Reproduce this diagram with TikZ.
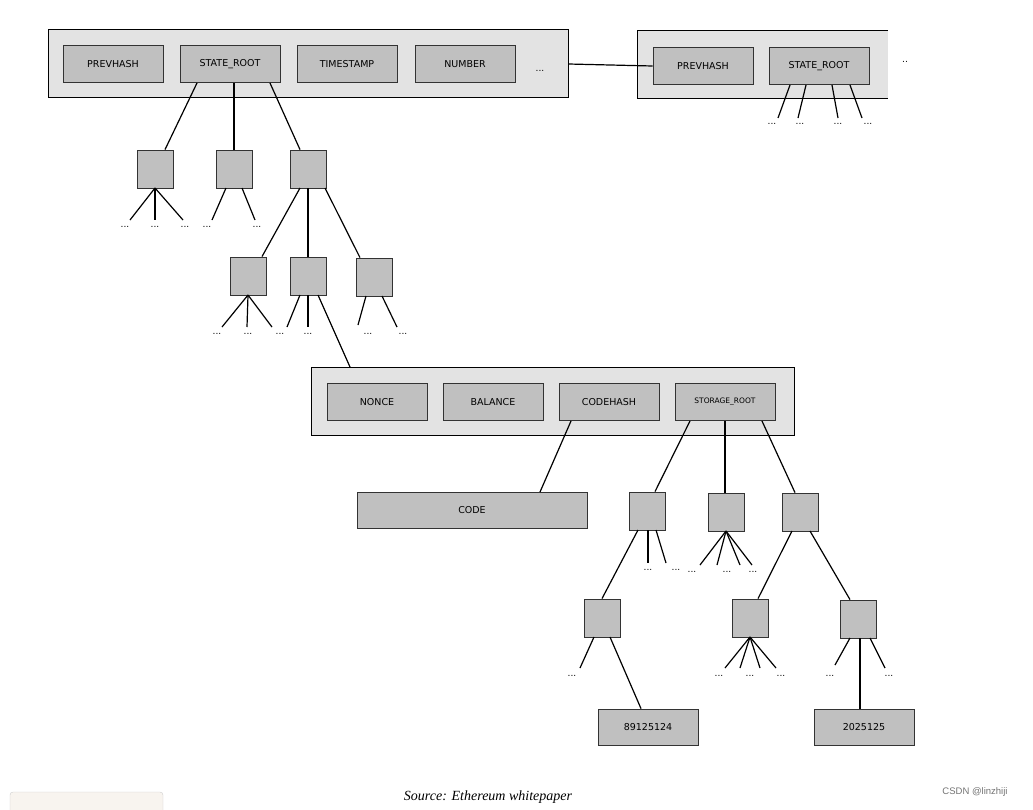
\documentclass[tikz,border=0pt]{standalone}
\usepackage{fontspec}
\setmainfont{DejaVu Sans}
\newfontfamily\capfont{Liberation Serif}
\newfontfamily\wmfont{Liberation Sans}
\definecolor{outerg}{HTML}{E3E3E3}
\definecolor{innerg}{HTML}{C0C0C0}
\begin{document}
\begin{tikzpicture}[x=1pt,y=-1pt,
  every node/.style={inner sep=0pt,font=\fontsize{9.5}{11}\selectfont},
  outer/.style={draw=black,line width=1pt,fill=outerg},
  field/.style={draw=black!80,line width=0.8pt,fill=innerg,minimum width=100pt,minimum height=37pt},
  sq/.style={draw=black!80,line width=0.8pt,fill=innerg,minimum width=36pt,minimum height=38pt},
  e/.style={line width=1.2pt},
  dots/.style={font=\fontsize{9}{10}\selectfont}]
\useasboundingbox (0,0) rectangle (1033,809);
% block 1
\node[outer,minimum width=520pt,minimum height=68pt] (b1) at (308,63) {};
\node[field] (ph1) at (113,64) {PREVHASH};
\node[field] (sr1) at (230,64) {STATE\_ROOT};
\node[field] (ts1) at (347,64) {TIMESTAMP};
\node[field] (nu1) at (465,64) {NUMBER};
\node[dots] (d0) at (540,71) {...};
% block 2
\fill[outerg] (637,30) rectangle (888,98);
\draw[line width=1pt] (888,30) -- (637,30) -- (637,98) -- (888,98);
\node[field] (ph2) at (703,66) {PREVHASH};
\node[field] (sr2) at (819,66) {STATE\_ROOT};
\node[dots] at (905,62) {..};
\draw[e] (b1.east |- 0,64) -- (ph2.west);
\foreach \a/\b in {790/778,806/798,832/838,850/862}
  \draw[e] (\a,85) -- (\b,118);
\foreach \x in {772,800,838,868} \node[dots] at (\x,124) {...};
% level 1
\node[sq] (A) at (155,169) {};
\node[sq] (B) at (234,169) {};
\node[sq] (C) at (308,169) {};
\draw[e] (197,83) -- (A.north -| 165,0);
\draw[e] (234,83) -- (B.north);
\draw[e] (270,83) -- (C.north -| 300,0);
\foreach \x in {130,155,183} \draw[e] (A.south -| \x,0) ++(0,0) coordinate (t) (155,188) -- (\x,220);
\foreach \x in {125,155,185} \node[dots] at (\x,227) {...};
\draw[e] (226,188) -- (212,220); \draw[e] (242,188) -- (255,220);
\foreach \x in {207,257} \node[dots] at (\x,227) {...};
% level 2
\node[sq] (D) at (248,276) {};
\node[sq] (E) at (308,276) {};
\node[sq] (F) at (374,277) {};
\draw[e] (300,188) -- (D.north -| 262,0);
\draw[e] (308,188) -- (E.north);
\draw[e] (325,188) -- (F.north -| 360,0);
\foreach \x in {222,247,272} \draw[e] (248,295) -- (\x,327);
\draw[e] (300,295) -- (287,327); \draw[e] (308,295) -- (308,327);
\draw[e] (366,296) -- (358,325); \draw[e] (382,296) -- (397,327);
\foreach \x in {217,248,280,308,368,403} \node[dots] at (\x,334) {...};
% account
\node[outer,minimum width=483pt,minimum height=68pt] (acc) at (552.5,401) {};
\draw[e] (318,295) -- (350,367);
\node[field] (no) at (377,402) {NONCE};
\node[field] (ba) at (493,402) {BALANCE};
\node[field] (ch) at (609,402) {CODEHASH};
\node[field,font=\fontsize{7.5}{9}\selectfont] (st) at (725,402) {STORAGE\_ROOT};
\node[draw=black!80,line width=0.8pt,fill=innerg,minimum width=230pt,minimum height=36pt] (code) at (472,510) {CODE};
\draw[e] (571,421) -- (540,492);
% storage trie
\node[sq] (G) at (647,511) {};
\node[sq] (H) at (726,512) {};
\node[sq] (I) at (800,512) {};
\draw[e] (690,421) -- (G.north -| 655,0);
\draw[e] (725,421) -- (H.north -| 725,0);
\draw[e] (762,421) -- (I.north -| 795,0);
\node[sq] (J) at (602,618) {};
\node[sq] (K) at (750,618) {};
\node[sq] (L) at (858,619) {};
\draw[e] (638,530) -- (J.north);
\draw[e] (648,530) -- (648,563); \draw[e] (656,530) -- (666,563);
\foreach \x in {648,676} \node[dots] at (\x,570) {...};
\foreach \x in {700,717,740,752} \draw[e] (726,531) -- (\x,565);
\foreach \x in {692,727,753} \node[dots] at (\x,572) {...};
\draw[e] (792,531) -- (K.north -| 758,0);
\draw[e] (810,531) -- (L.north -| 850,0);
\node[draw=black!80,line width=0.8pt,fill=innerg,minimum width=100pt,minimum height=36pt] (n1) at (648,727) {89125124};
\node[draw=black!80,line width=0.8pt,fill=innerg,minimum width=100pt,minimum height=36pt] (n2) at (864,727) {2025125};
\draw[e] (594,637) -- (580,668); \draw[e] (610,637) -- (n1.north -| 641,0);
\foreach \x in {572} \node[dots] at (\x,676) {...};
\foreach \x in {725,740,760,776} \draw[e] (750,637) -- (\x+0,668);
\foreach \x in {719,750,781} \node[dots] at (\x,676) {...};
\draw[e] (850,638) -- (835,665); \draw[e] (860,638) -- (n2.north -| 860,0); \draw[e] (870,638) -- (885,668);
\foreach \x in {830,889} \node[dots] at (\x,676) {...};
% caption
\node[font=\capfont\itshape\fontsize{14}{16}\selectfont] (cap) at (488,797) {Source: Ethereum whitepaper};
\node[font=\wmfont\fontsize{9.5}{11}\selectfont,text=black!55] (wm) at (975,792) {CSDN @linzhiji};
\draw[draw=black!20,fill=black!10!brown!8!white,rounded corners=3pt] (10,812) -- (10,792) -- (163,792) -- (163,812);
\end{tikzpicture}
\end{document}
